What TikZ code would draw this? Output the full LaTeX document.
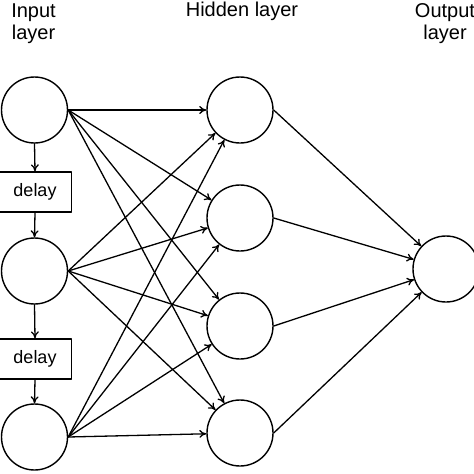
\documentclass[tikz,border=0pt]{standalone}
\usepackage{fontspec}
\setmainfont{Liberation Sans}
\usetikzlibrary{arrows.meta}
\tikzset{neuron/.style={circle,draw,line width=1.4pt,minimum size=66pt,inner sep=0pt},
  delaybox/.style={draw,line width=1.4pt,minimum width=73pt,minimum height=40pt,inner sep=0pt,font=\fontsize{18}{20}\selectfont},
  layerlabel/.style={align=center,inner sep=0pt,anchor=north,font=\fontsize{20}{22}\selectfont}}

\begin{document}
\begin{tikzpicture}[line cap=round,line join=round,>={To[length=7pt,width=8pt]},x=1pt,y=-1pt]
\useasboundingbox (0,0) rectangle (474,474);
% labels
\node[layerlabel] (inlabel) at (33.5,3.5) {Input\\layer};
\node[layerlabel] (hidlabel) at (242,1.5) {Hidden layer};
\node[layerlabel] (outlabel) at (445,3.5) {Output\\layer};
% input layer with delays
\node[neuron] (in1) at (34.5,110) {};
\node[delaybox] (d1) at (35,192) {delay};
\node[neuron] (in2) at (34.5,271) {};
\node[delaybox] (d2) at (35,359) {delay};
\node[neuron] (in3) at (34.5,437) {};
% hidden layer
\node[neuron] (h1) at (240,110) {};
\node[neuron] (h2) at (240,218) {};
\node[neuron] (h3) at (240,326) {};
\node[neuron] (h4) at (240,433) {};
% output layer
\node[neuron] (out) at (446,269) {};
% delay line
\draw [->,line width=1.3pt] (in1.south) -- (d1.north);
\draw [->,line width=1.3pt] (d1.south) -- (in2.north);
\draw [->,line width=1.3pt] (in2.south) -- (d2.north);
\draw [->,line width=1.3pt] (d2.south) -- (in3.north);
% input to hidden
\draw [->,line width=1.3pt] (in1.east) -- (h1);
\draw [->,line width=1.3pt] (in1.east) -- (h2);
\draw [->,line width=1.3pt] (in1.east) -- (h3);
\draw [->,line width=1.3pt] (in1.east) -- (h4);
\draw [->,line width=1.3pt] (in2.east) -- (h1);
\draw [->,line width=1.3pt] (in2.east) -- (h2);
\draw [->,line width=1.3pt] (in2.east) -- (h3);
\draw [->,line width=1.3pt] (in2.east) -- (h4);
\draw [->,line width=1.3pt] (in3.east) -- (h1);
\draw [->,line width=1.3pt] (in3.east) -- (h2);
\draw [->,line width=1.3pt] (in3.east) -- (h3);
\draw [->,line width=1.3pt] (in3.east) -- (h4);
% hidden to output
\draw [->,line width=1.3pt] (h1.east) -- (out);
\draw [->,line width=1.3pt] (h2.east) -- (out);
\draw [->,line width=1.3pt] (h3.east) -- (out);
\draw [->,line width=1.3pt] (h4.east) -- (out);
\end{tikzpicture}
\end{document}
